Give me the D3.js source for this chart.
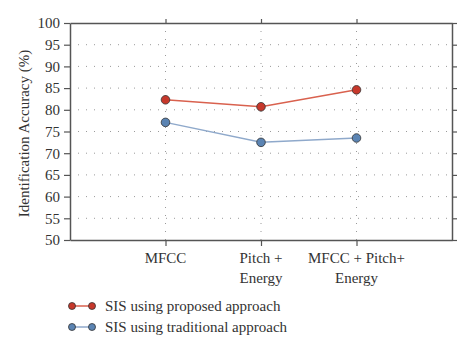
<!DOCTYPE html>
<html>
<head>
<meta charset="utf-8">
<script src="https://cdn.jsdelivr.net/npm/d3@7"></script>
<style>
body { margin: 0; background: #fff; }
</style>
</head>
<body>
<svg class="chart" width="474" height="353"></svg>
<script>
var categories = [["MFCC"], ["Pitch +", "Energy"], ["MFCC + Pitch+", "Energy"]];
var proposed = [82.3, 80.7, 84.6];
var traditional = [77.1, 72.5, 73.5];
var yTicks = [50, 55, 60, 65, 70, 75, 80, 85, 90, 95, 100];
var seriesNames = ["SIS using proposed approach", "SIS using traditional approach"];

var meta = {};
meta['left'] = 70;
meta['right'] = 452;
meta['top'] = 23;
meta['bottom'] = 240;
var fontName = 'Liberation Serif';
var textColor = '#333';

var svg = d3.select(".chart");

// categories sit at 1..3 on a 0..4 axis
const xScale = d3.scaleLinear()
    .domain([0, categories.length + 1])
    .range([meta['left'], meta['right']]);

const yScale = d3.scaleLinear()
    .domain([50, 100])
    .range([meta['bottom'], meta['top']]);

var idx = categories.map((d, i) => i + 1);

// grid
var grid = svg.append('g').attr('class', 'grid');
grid.selectAll('.hgrid')
    .data(yTicks.filter(d => d > 50 && d < 100))
    .enter().append('line')
    .attr('x1', meta['left']).attr('x2', meta['right'])
    .attr('y1', d => yScale(d)).attr('y2', d => yScale(d))
    .attr('stroke', '#9a9a9a')
    .attr('stroke-width', 1)
    .attr('stroke-dasharray', '1,7');
grid.selectAll('.vgrid')
    .data(idx)
    .enter().append('line')
    .attr('x1', d => xScale(d)).attr('x2', d => xScale(d))
    .attr('y1', meta['top']).attr('y2', meta['bottom'])
    .attr('stroke', '#9a9a9a')
    .attr('stroke-width', 1)
    .attr('stroke-dasharray', '1,7');

// axes
var axisColor = '#555';
var leftAxis = svg.append('g')
    .attr('transform', `translate(${meta['left']},0)`)
    .call(d3.axisLeft(yScale).tickValues(yTicks).tickSize(6).tickSizeOuter(0).tickPadding(4));
var rightAxis = svg.append('g')
    .attr('transform', `translate(${meta['right']},0)`)
    .call(d3.axisRight(yScale).tickValues(yTicks).tickSize(5).tickSizeOuter(0).tickFormat(''));
var bottomAxis = svg.append('g')
    .attr('transform', `translate(0,${meta['bottom']})`)
    .call(d3.axisBottom(xScale).tickValues(idx).tickSize(6).tickSizeOuter(0).tickFormat(''));
var topAxis = svg.append('g')
    .attr('transform', `translate(0,${meta['top']})`)
    .call(d3.axisTop(xScale).tickValues(idx).tickSize(4).tickSizeOuter(0).tickFormat(''));

[leftAxis, rightAxis, bottomAxis, topAxis].forEach(a => {
    a.attr('font-family', fontName);
    a.select('.domain').attr('stroke', axisColor).attr('stroke-width', 1.5);
    a.selectAll('.tick line').attr('stroke', axisColor).attr('stroke-width', 1.2);
});
leftAxis.selectAll('.tick text')
    .attr('font-size', 15)
    .attr('font-family', fontName)
    .attr('fill', textColor);

// category labels (two lines)
var catLabels = svg.append('g').selectAll('.cat')
    .data(categories)
    .enter().append('text')
    .attr('class', 'cat')
    .attr('text-anchor', 'middle')
    .attr('font-family', fontName)
    .attr('font-size', 15)
    .attr('fill', textColor)
    .attr('transform', (d, i) => `translate(${xScale(i + 1)},${meta['bottom'] + 23})`);
catLabels.selectAll('tspan')
    .data(d => d)
    .enter().append('tspan')
    .attr('x', 0)
    .attr('dy', (d, i) => i == 0 ? 0 : 20)
    .text(d => d);

// y label
svg.append('text')
    .attr('transform', `translate(29, ${(meta['top'] + meta['bottom']) / 2 + 2}) rotate(-90)`)
    .attr('text-anchor', 'middle')
    .attr('font-family', fontName)
    .attr('font-size', 15)
    .attr('fill', textColor)
    .text("Identification Accuracy (%)");

// series
var series = [
    { name: seriesNames[0], values: proposed, line: '#d9614e', fill: '#c7382b' },
    { name: seriesNames[1], values: traditional, line: '#8fa9cb', fill: '#5b84b3' }
];

var line = d3.line()
    .x((d, i) => xScale(i + 1))
    .y(d => yScale(d));

series.forEach(s => {
    svg.append('path')
        .attr('d', line(s.values))
        .attr('fill', 'none')
        .attr('stroke', s.line)
        .attr('stroke-width', 1.5);
    svg.selectAll(null)
        .data(s.values)
        .enter().append('circle')
        .attr('cx', (d, i) => xScale(i + 1))
        .attr('cy', d => yScale(d))
        .attr('r', 4.3)
        .attr('fill', s.fill)
        .attr('stroke', '#333')
        .attr('stroke-width', 0.8);
});

// legend
var legend = svg.append('g').attr('transform', 'translate(72,306)');
series.forEach((s, i) => {
    var g = legend.append('g').attr('transform', `translate(0,${i * 21})`);
    g.append('line')
        .attr('x1', 0).attr('x2', 20)
        .attr('stroke', s.line).attr('stroke-width', 1.5);
    g.append('circle').attr('cx', 0).attr('r', 3.5).attr('fill', s.fill).attr('stroke', '#333').attr('stroke-width', 0.8);
    g.append('circle').attr('cx', 20).attr('r', 3.5).attr('fill', s.fill).attr('stroke', '#333').attr('stroke-width', 0.8);
    g.append('text')
        .attr('x', 33).attr('y', 5)
        .attr('font-family', fontName)
        .attr('font-size', 15)
        .attr('fill', textColor)
        .text(s.name);
});
</script>
</body>
</html>
